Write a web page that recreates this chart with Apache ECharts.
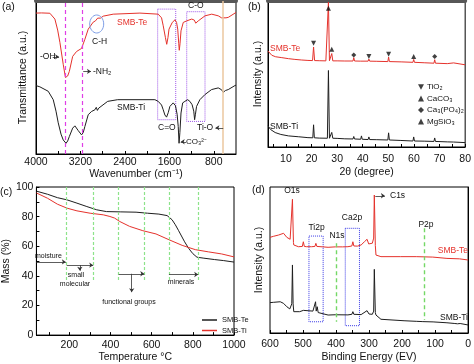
<!DOCTYPE html>
<html><head><meta charset="utf-8">
<script src="https://cdn.jsdelivr.net/npm/echarts@6/dist/echarts.min.js"></script>
<style>html,body{margin:0;padding:0;background:#fff}#c{width:474px;height:364px}</style>
</head><body><div id="c"></div><script>
// ---------- (a) FTIR ----------
const ftirTicks = [800,1200,1600,2000,2400,2800,3200,3600,4000];
const ftirLabels = [800,1600,2400,3200,4000];
const ftirTe = [[4000,92.1],[3900,92.2],[3750,92],[3660,88.2],[3610,81],[3570,73],[3510,58.6],[3470,50],[3430,51],[3400,54],[3340,63.8],[3270,67],[3180,69],[3120,75],[3060,81.6],[2970,86.2],[2930,87],[2915,86],[2890,88.8],[2860,87.8],[2840,88.8],[2790,90.1],[2610,91.4],[2130,92.1],[1800,91.4],[1740,89],[1710,83.8],[1670,76],[1647,71.7],[1625,76],[1606,81.6],[1547,86],[1498,87.7],[1470,86],[1449,81.6],[1430,72],[1421,67.8],[1408,72],[1390,80.5],[1349,86],[1287,87],[1197,88.2],[1150,87.5],[1125,85.5],[1079,87],[958,90.3],[837,91.4],[719,90.3],[660,89],[629,88.2],[580,89],[539,89.3],[418,92.1],[400,92.5]];
const ftirTi = [[4000,44.7],[3930,43.9],[3780,41],[3690,35.5],[3640,28],[3600,20.4],[3550,13],[3510,9.2],[3460,7],[3430,8.5],[3400,11.4],[3340,16.9],[3300,18.4],[3240,15.3],[3180,12.5],[3150,14],[3120,18],[3060,25.7],[3000,27.8],[2940,28.9],[2915,30.5],[2895,28.5],[2870,30],[2830,31.1],[2710,34.4],[2530,35.5],[2110,35.5],[1860,35.5],[1800,34.4],[1740,32],[1710,28.9],[1680,25.5],[1650,24.1],[1620,27],[1590,31.1],[1530,33.4],[1490,31.6],[1460,26],[1440,18],[1425,7],[1410,14],[1390,26.8],[1360,33.4],[1320,34.4],[1270,35.5],[1230,34.4],[1190,32.2],[1160,28],[1145,22.4],[1130,26],[1110,31.1],[1050,35.5],[960,38.8],[840,42.1],[720,43.2],[660,42],[630,40.3],[590,41.5],[540,42.1],[420,44.7],[400,45]];
const ftirBandLines = [3469,3163];
const ftirTiOLine = 630;
const ftirBoxes = [[1810,94.7,1485,22.4],[1287,93,958,21.3]];

// ---------- (b) XRD ----------
const xrdTicks = [5,10,15,20,25,30,35,40,45,50,55,60,65,70,75,80];
const xrdLabels = [10,20,30,40,50,60,70,80];
const xrdTe = [[3,65.7],[4.5,62.8],[6,61.8],[8.4,61.2],[11,60.5],[13.5,60],[16,59.6],[18.6,59.3],[20.4,59.2],[20.8,68.5],[21.2,59.2],[23,59.1],[25.6,59],[26.2,59.1],[26.6,99.3],[27,59.1],[27.6,59],[27.9,64],[28.3,59],[30,59],[33,58.9],[36.2,58.9],[36.5,61.2],[36.8,58.9],[39.2,58.8],[39.5,60],[39.8,58.8],[42.1,58.8],[42.4,60.2],[42.7,58.8],[45.5,58.7],[45.8,59.5],[46.1,58.7],[49.8,58.5],[50.1,61.6],[50.4,58.5],[55,58.3],[55.3,59.2],[55.6,58.3],[59.6,58],[59.9,60],[60.2,58],[64,57.7],[67.8,57.4],[68.1,59.8],[68.4,57.4],[73,57.1],[75.5,57.6],[76,57],[80,56.3]];
const xrdTi = [[3,14.5],[4,12],[5.8,9.9],[8,8.6],[11,7.6],[15,7],[18.6,6.4],[20.5,6.3],[20.8,15.2],[21.1,6.3],[23,6.1],[26.2,6],[26.6,52.4],[27,6],[27.6,6],[27.9,10],[28.3,6],[30,5.9],[33,5.6],[36.2,5.5],[36.5,7.2],[36.8,5.5],[39.2,5.3],[39.5,7.6],[39.8,5.3],[42.1,5.1],[42.4,6.9],[42.7,5.1],[45.5,5],[45.8,6],[46.1,5],[49.8,4.8],[50.1,9.7],[50.4,4.8],[54.6,4.5],[54.9,5.8],[55.2,4.5],[59.6,4.1],[59.9,6.9],[60.2,4.1],[64,4],[67.8,3.8],[68.1,6.2],[68.4,3.8],[73,3.5],[75.5,3.4],[80,3]];
const tio2Marks = [[20.8,71],[42.4,62],[50.1,63.5]];
const caco3Marks = [[26.6,95],[27.9,67]];
const ca3po4Marks = [[36.5,63],[68.1,62]];
const mgsio3Marks = [[59.9,62]];

// ---------- (c) TGA ----------
const tgaTicksX = [100,200,300,400,500,600,700,800,900,1000];
const tgaLabelsX = [200,400,600,800,1000];
const tgaTicksY = [0,10,20,30,40,50,60,70,80,90,100];
const tgaLabelsY = [0,20,40,60,80,100];
const tgaTe = [[40,97.2],[46,96.9],[94,95.1],[142,92.8],[189,91.3],[237,89.1],[285,86.8],[333,84.6],[380,83.4],[450,83.2],[524,83],[580,82.3],[635,81.7],[675,80.7],[699,77.9],[715,74.5],[731,70.5],[760,63],[780,58.5],[800,55],[820,52.6],[850,52],[906,51],[950,50.3],[1000,49.3]];
const tgaTi = [[40,96],[46,95.8],[94,92.4],[142,88.4],[189,85.7],[237,83.9],[301,82.3],[365,81.2],[397,80.1],[420,79],[445,76.7],[493,73.4],[557,70.5],[621,68.3],[684,64.4],[748,60.6],[812,57.7],[876,56.2],[940,54.8],[1000,52.8]];
const tgaStageLines = [185,318,440,566,684,828];

// ---------- (d) XPS ----------
const xpsTicks = [0,50,100,150,200,250,300,350,400,450,500,550,600];
const xpsLabels = [0,100,200,300,400,500,600];
const xpsTe = [[600,65.5],[590,66.2],[574,67.1],[559,68.3],[549,65.5],[539,64.2],[535,65],[532,91.6],[529,62],[528,60.3],[514,59.1],[502,59.3],[499,62.5],[496,59.3],[489,59.1],[474,59.1],[464,59.3],[461,61.4],[458,59.3],[440,59],[424,58.7],[402,59],[399,59.6],[396,59],[380,59],[364,59.1],[352,59.6],[349,62.5],[346,59.6],[335,59.5],[324,60.3],[314,62.5],[306,64.2],[301,61],[298,60.3],[290,61.5],[286,65],[284,94.5],[281,60],[279,53.4],[264,52.3],[204,52.3],[157,52.3],[154,53.3],[151,52.3],[107,52],[104,53.3],[101,51.9],[64,51.1],[26,50.8],[24,51.6],[22,50.7],[0,50]];
const xpsTi = [[600,20.8],[590,21],[569,21.4],[559,20.3],[549,18],[540,16.5],[536,15.8],[534,20],[532,46.6],[530,20],[528,14.6],[510,14.6],[499,15.5],[496,14.6],[494,14.6],[470,15],[464,16],[462,21.4],[460,15],[457,18],[456,18],[454,14],[449,13.5],[424,12.3],[402,12.5],[399,13.5],[396,12.5],[364,12.4],[352,12.8],[349,14.6],[346,12.8],[324,12.6],[306,15.3],[300,13],[290,12.8],[286,15],[284,43.6],[281,14],[279,12.3],[264,9.4],[194,8.4],[191,9.5],[188,8.4],[157,8],[154,9.3],[151,8],[137,7.8],[135,9],[133,7.8],[106,7.6],[104,8.8],[102,7.6],[64,7],[40,6.5],[36,7.5],[32,6.3],[24,6.5],[0,5.5]];
const xpsBoxes = [[482,66.4,439,7.7],[372,71.7,329,5]];
const xpsGreenLines = [[400,61.4,7.7],[134,71.7,8.9]];

// ---------- styling ----------
const F = '"Liberation Sans", Arial, Helvetica, sans-serif';
const RED = '#e5322c', BLK = '#1e1e1e';
const tickFont = () => ({fontSize:10.5, color:'#111', fontFamily:F, formatter:(v)=>String(v)});
const nameFont = () => ({fontSize:10.5, color:'#111', fontFamily:F});

function xA(gi, min, max, inverse, ticks, labels, name, nameGap, margin){
  return {gridIndex:gi, type:'value', min, max, inverse,
    axisLine:{show:true, lineStyle:{color:'#000', width:1}},
    axisTick:{show:true, inside:true, length:3, customValues:ticks, lineStyle:{color:'#000'}},
    axisLabel:Object.assign({customValues:labels, margin}, tickFont()),
    splitLine:{show:false}, name, nameLocation:'middle', nameGap, nameTextStyle:nameFont()};
}
function yA(gi, name, nameGap, ticks, labels){
  const o = {gridIndex:gi, type:'value', min:0, max:100,
    axisLine:{show:true, lineStyle:{color:'#000', width:1}},
    axisTick:{show:false}, axisLabel:{show:false},
    splitLine:{show:false}, name, nameLocation:'middle', nameGap, nameTextStyle:nameFont()};
  if (ticks){
    o.axisTick = {show:true, inside:true, length:3, customValues:ticks, lineStyle:{color:'#000'}};
    o.axisLabel = Object.assign({show:true, customValues:labels, margin:3}, tickFont());
  }
  return o;
}
function topBand(gi){
  return {gridIndex:gi, type:'value', position:'top', min:0, max:1,
    axisLine:{show:true, lineStyle:{color:'#575757', width:4}},
    axisTick:{show:false}, axisLabel:{show:false}, splitLine:{show:false}};
}
function line(name, data, color, xi, yi, extra){
  return Object.assign({name, type:'line', data, xAxisIndex:xi, yAxisIndex:yi,
    showSymbol:false, symbol:'none', animation:false, silent:true, z:2,
    lineStyle:{color, width:1}, itemStyle:{color}}, extra||{});
}
function seg(x1,y1,x2,y2,arrow){
  return [{coord:[x1,y1], symbol:'none'},
          {coord:[x2,y2], symbol: arrow ? 'arrow':'none', symbolSize:4}];
}
function ml(data, style){
  return {silent:true, animation:false, label:{show:false}, symbol:['none','none'], lineStyle:style, data};
}
const boxStyle = (c)=>({color:'rgba(0,0,0,0)', borderColor:c, borderWidth:1, borderType:'dotted'});

function marks(name, data, symbol){
  return {name, type:'scatter', xAxisIndex:1, yAxisIndex:1, data, symbol, symbolSize:5, z:6,
    itemStyle:{color:'#111'}, animation:false, silent:true};
}
function helper(xi, yi, markLine){
  return {type:'line', xAxisIndex:xi, yAxisIndex:yi, data:[], silent:true, animation:false, z:3, markLine};
}

const series = [
  line('SMB-Te FTIR', ftirTe, RED, 0, 0, {
    markArea:{silent:true, animation:false, label:{show:false}, itemStyle:boxStyle('#9d55e8'),
      data: ftirBoxes.map(b=>[{coord:[b[0],b[1]]},{coord:[b[2],b[3]]}])}
  }),
  line('SMB-Ti FTIR', ftirTi, BLK, 0, 0),
  helper(0,0, ml([seg(ftirBandLines[0],0,ftirBandLines[0],100,false)], {color:'#e03ee6', type:[4,3], width:1.2})),
  helper(0,0, ml([seg(ftirBandLines[1],0,ftirBandLines[1],100,false)], {color:'#e03ee6', type:[4,3], width:1.2})),
  helper(0,0, ml([seg(ftirTiOLine,0,ftirTiOLine,100,false)], {color:'#ebc79f', type:'solid', width:1.5})),
  helper(0,0, ml([seg(3700,63.5,3585,63.5,true), seg(3150,54,3010,54,true), seg(1300,8,1395,8,true), seg(630,17.1,770,17.1,true)], {color:'#333', type:'solid', width:0.8})),
  line('SMB-Te XRD', xrdTe, RED, 1, 1),
  line('SMB-Ti XRD', xrdTi, BLK, 1, 1),
  marks('TiO₂', tio2Marks, 'path://M0,0L10,0L5,9Z'),
  marks('CaCO₃', caco3Marks, 'triangle'),
  marks('Ca₃(PO₄)₂', ca3po4Marks, 'diamond'),
  marks('MgSiO₃', mgsio3Marks, 'triangle'),
  line('SMB-Te', tgaTe, BLK, 2, 2),
  line('SMB-Ti', tgaTi, RED, 2, 2),
  helper(2,2, ml(tgaStageLines.map(t=>seg(t,100,t,37,false)), {color:'#8de38a', type:[3,2], width:1.2})),
  helper(2,2, ml([seg(40,49.4,183,49.4,true), seg(187,47.2,316,47.2,true), seg(251,47.2,251,43.5,true),
                  seg(440,41.4,564,41.4,true), seg(503,41.4,503,29,true), seg(684,40.9,826,40.9,true)], {color:'#333', type:'solid', width:0.8})),
  line('SMB-Te XPS', xpsTe, RED, 3, 3, {
    markArea:{silent:true, animation:false, label:{show:false}, itemStyle:boxStyle('#3a3ae6'),
      data: xpsBoxes.map(b=>[{coord:[b[0],b[1]]},{coord:[b[2],b[3]]}])}
  }),
  line('SMB-Ti XPS', xpsTi, BLK, 3, 3),
  helper(3,3, ml(xpsGreenLines.map(g=>seg(g[0],g[1],g[0],g[2],false)), {color:'#74d866', type:[4,3], width:1.4})),
  helper(3,3, ml([seg(281,94,252,94,true)], {color:'#333', type:'solid', width:0.8}))
];

function T(text, x, y, opt){
  opt = opt||{};
  return {type:'text', x, y, silent:true, z:100, style:{text, fill:opt.color||'#111',
    font:(opt.size||8)+'px '+F, align:opt.align||'left', verticalAlign:'middle',
    textAlign:opt.align||'left', textVerticalAlign:'middle'}};
}

const graphic = [
  T('(a)', 2, 7, {size:10.5}),
  T('(b)', 248, 7, {size:10.5}),
  T('(c)', 0, 192, {size:10.5}),
  T('(d)', 252, 190, {size:10.5}),
  // a
  T('SMB-Te', 117, 23, {color:RED, size:8.5}),
  T('SMB-Ti', 117, 108, {size:8.5}),
  T('C-H', 92, 42, {size:8.5}),
  T('-OH', 40, 57, {size:8.5}),
  T('-NH₂', 93, 72, {size:8.5}),
  T('C=O', 158, 128, {size:8.5}),
  T('C-O', 188, 6, {size:8.5}),
  T('Ti-O', 197, 128, {size:8.5}),
  T('CO₃²⁻', 186, 142, {size:8}),
  {type:'ellipse', shape:{cx:96.7, cy:24, rx:7, ry:9}, silent:true, z:100, style:{fill:'none', stroke:'#7e9ee6', lineWidth:1}},
  // b
  T('SMB-Te', 270, 49, {color:RED, size:8.5}),
  T('SMB-Ti', 270, 127, {size:8.5}),
  // c
  T('moisture', 35, 256, {size:7}),
  T('small', 76, 275, {size:7, align:'center'}),
  T('molecular', 75, 284, {size:7, align:'center'}),
  T('functional groups', 129, 302, {size:7, align:'center'}),
  T('minerals', 181, 282, {size:7, align:'center'}),
  // d
  T('O1s', 292, 191, {size:8.5, align:'center'}),
  T('C1s', 390, 196, {size:8.5}),
  T('Ti2p', 316.5, 228, {size:8.5, align:'center'}),
  T('N1s', 337, 235.7, {size:8.5, align:'center'}),
  T('Ca2p', 352, 218, {size:8.5, align:'center'}),
  T('P2p', 426, 225, {size:8.5, align:'center'}),
  T('SMB-Te', 468, 251, {color:RED, size:8.5, align:'right'}),
  T('SMB-Ti', 468, 318, {size:8.5, align:'right'})
];

const option = {
  animation:false,
  backgroundColor:'#fff',
  textStyle:{fontFamily:F},
  grid:[
    {left:36, top:1, width:200, height:153, show:true, borderColor:'#000', borderWidth:1, backgroundColor:'transparent'},
    {left:268, top:1, width:201, height:146, show:true, borderColor:'#000', borderWidth:1, backgroundColor:'transparent'},
    {left:32, top:187, width:202, height:149, show:true, borderColor:'#000', borderWidth:1, backgroundColor:'transparent'},
    {left:270, top:187, width:200, height:146, show:true, borderColor:'#000', borderWidth:1, backgroundColor:'transparent'}
  ],
  xAxis:[
    xA(0, 400, 4000, true, ftirTicks, ftirLabels, 'Wavenumber (cm⁻¹)', 14, 3),
    xA(1, 3, 80, false, xrdTicks, xrdLabels, '2θ (degree)', 20, 7),
    xA(2, 40, 1000, false, tgaTicksX, tgaLabelsX, 'Temperature °C', 16, 5),
    xA(3, 0, 600, true, xpsTicks, xpsLabels, 'Binding Energy (EV)', 19, 6),
    topBand(0), topBand(1)
  ],
  yAxis:[
    yA(0, 'Transmittance (a.u.)', 7),
    yA(1, 'Intensity (a.u.)', 4),
    yA(2, 'Mass (%)', 18, tgaTicksY, tgaLabelsY),
    yA(3, 'Intensity (a.u.)', 5)
  ],
  legend:[
    {data:['TiO₂','CaCO₃','Ca₃(PO₄)₂','MgSiO₃'], orient:'vertical', left:413, top:78, itemWidth:6, itemHeight:6, itemGap:3.5, selectedMode:false,
     textStyle:{fontSize:8, color:'#111', fontFamily:F, padding:[0,0,0,-2]}},
    {data:[{name:'SMB-Te', icon:'rect'},{name:'SMB-Ti', icon:'rect'}], orient:'vertical', left:197, top:311, itemWidth:15, itemHeight:1.5, itemGap:2.5, selectedMode:false,
     textStyle:{fontSize:7.5, color:'#111', fontFamily:F}}
  ],
  series,
  graphic
};
const chart = echarts.init(document.getElementById('c'), null, {renderer:'canvas'});
chart.setOption(option);
</script></body></html>
